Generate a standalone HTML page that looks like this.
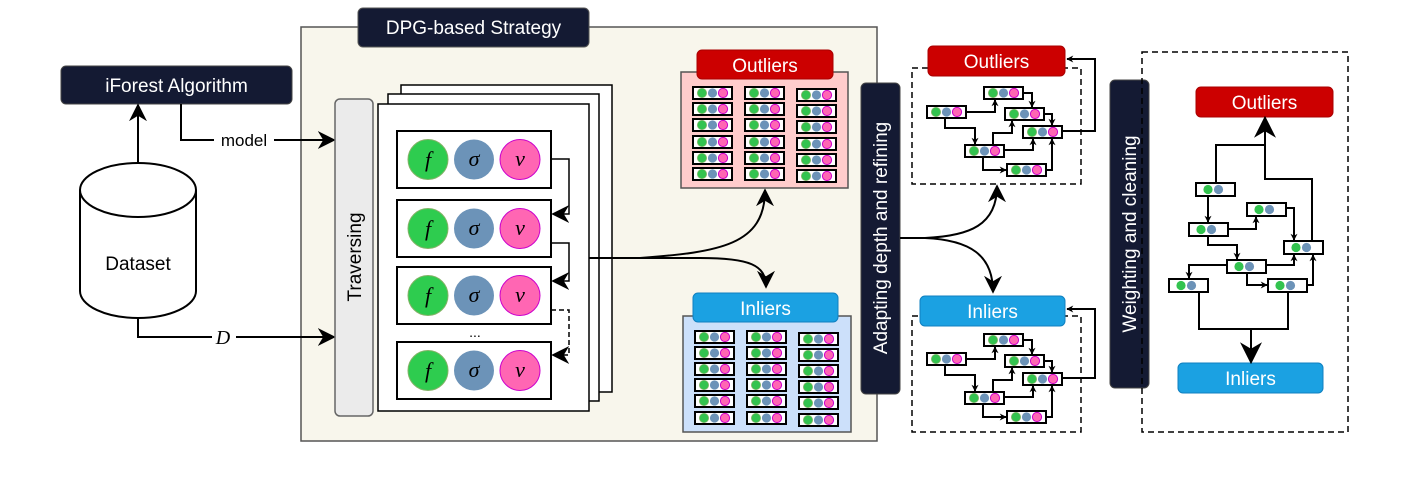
<!DOCTYPE html>
<html><head><meta charset="utf-8"><style>
html,body{margin:0;padding:0;background:#fff;}
svg{display:block;font-family:"Liberation Sans",sans-serif;}
</style></head><body>
<svg width="1413" height="482" viewBox="0 0 1413 482" xmlns="http://www.w3.org/2000/svg">
<defs>
<marker id="a" viewBox="0 0 10 10" refX="9" refY="5" markerWidth="7" markerHeight="7" orient="auto-start-reverse" markerUnits="userSpaceOnUse"><path d="M0,0 L10,5 L0,10 L3,5z" fill="#000"/></marker>
<marker id="am" viewBox="0 0 10 10" refX="9" refY="5" markerWidth="18" markerHeight="18" orient="auto" markerUnits="userSpaceOnUse"><path d="M0,0 L10,5 L0,10 L3,5z" fill="#000"/></marker>
<marker id="ab" viewBox="0 0 10 10" refX="9" refY="5" markerWidth="22" markerHeight="22" orient="auto" markerUnits="userSpaceOnUse"><path d="M0,0 L10,5 L0,10 L3,5z" fill="#000"/></marker>
<g id="m3"><rect x="0" y="0" width="39" height="12" fill="#fff" stroke="#000" stroke-width="2"/><circle cx="9" cy="6" r="4.6" fill="#33c34f" stroke="#82b366" stroke-width="0.8"/><circle cx="19.5" cy="6" r="4.6" fill="#6c93b8"/><circle cx="30" cy="6" r="4.6" fill="#ff66b3" stroke="#c0c" stroke-width="1"/></g>
<g id="m2"><rect x="0" y="0" width="39" height="13" fill="#fff" stroke="#000" stroke-width="2"/><circle cx="12" cy="6.5" r="4.6" fill="#33c34f"/><circle cx="22.5" cy="6.5" r="4.6" fill="#6c93b8"/></g>
<g id="card"><rect x="0" y="0" width="154" height="57" fill="#fff" stroke="#000" stroke-width="2"/>
<circle cx="31" cy="28.5" r="20" fill="#2ecc4f" stroke="#82b366"/><circle cx="77" cy="28.5" r="20" fill="#6c93b8"/><circle cx="123" cy="28.5" r="20" fill="#ff66b3" stroke="#c0c"/>
<text x="31" y="36" font-family="Liberation Serif,serif" font-style="italic" font-size="22" text-anchor="middle">f</text>
<text x="77" y="35" font-family="Liberation Serif,serif" font-style="italic" font-size="22" text-anchor="middle">σ</text>
<text x="123" y="35" font-family="Liberation Serif,serif" font-style="italic" font-size="22" text-anchor="middle">v</text></g>
<g id="graph" fill="none" stroke="#000" stroke-width="2">
<path d="M966,112 H995 V100" marker-end="url(#a)"/>
<path d="M1022,93 H1032 V107" marker-end="url(#a)"/>
<path d="M1044,114 H1052 V125" marker-end="url(#a)"/>
<path d="M945,119 V128 H975 V144" marker-end="url(#a)"/>
<path d="M993,145 V133 H1012 V121" marker-end="url(#a)"/>
<path d="M1004,150 H1033 V139" marker-end="url(#a)"/>
<path d="M983,157 V170 H1006" marker-end="url(#a)"/>
<path d="M1046,170 H1052 V139" marker-end="url(#a)"/>
<use href="#m3" x="927" y="106" stroke="none"/><use href="#m3" x="984" y="87" stroke="none"/><use href="#m3" x="1005" y="108" stroke="none"/><use href="#m3" x="1023" y="126" stroke="none"/><use href="#m3" x="965" y="145" stroke="none"/><use href="#m3" x="1007" y="164" stroke="none"/>
</g>
</defs>

<!-- strategy -->
<rect x="301" y="27" width="576" height="414" fill="#f8f6ec" stroke="#555" stroke-width="1.5"/>
<rect x="358" y="8" width="231" height="39" rx="5" fill="#141a33" stroke="#555"/>
<text x="473.5" y="34" fill="#fff" font-size="19" text-anchor="middle">DPG-based Strategy</text>

<!-- left -->
<rect x="61" y="66" width="231" height="38" rx="5" fill="#141a33" stroke="#444"/>
<text x="176.5" y="92" fill="#fff" font-size="19" text-anchor="middle">iForest Algorithm</text>
<path d="M80,190 V291 A58,27 0 0 0 196,291 V190" fill="#fff" stroke="#000" stroke-width="2"/>
<ellipse cx="138" cy="190" rx="58" ry="27" fill="#fff" stroke="#000" stroke-width="2"/>
<text x="138" y="270" font-size="19" text-anchor="middle">Dataset</text>
<path d="M138,163 V105" fill="none" stroke="#000" stroke-width="2" marker-end="url(#am)"/>
<path d="M181,104 V140 H334" fill="none" stroke="#000" stroke-width="2" marker-end="url(#am)"/>
<rect x="214" y="130" width="60" height="20" fill="#fff"/>
<text x="244" y="146" font-size="17" text-anchor="middle">model</text>
<path d="M138,318 V337 H334" fill="none" stroke="#000" stroke-width="2" marker-end="url(#am)"/>
<rect x="212" y="327" width="24" height="20" fill="#fff"/>
<text x="223" y="344" font-family="Liberation Serif,serif" font-style="italic" font-size="20" text-anchor="middle">D</text>

<rect x="335" y="99" width="38" height="317" rx="5" fill="#ebebeb" stroke="#666" stroke-width="1.5"/>
<text transform="translate(361,257) rotate(-90)" font-size="19" text-anchor="middle">Traversing</text>
<rect x="401" y="85" width="211" height="307" fill="#fff" stroke="#000" stroke-width="1.5"/>
<rect x="388" y="94" width="211" height="307" fill="#fff" stroke="#000" stroke-width="1.5"/>
<rect x="378" y="104" width="211" height="307" fill="#fff" stroke="#000" stroke-width="1.5"/>
<use href="#card" x="397" y="131"/><use href="#card" x="397" y="200"/><use href="#card" x="397" y="267"/><use href="#card" x="397" y="342"/>
<text x="475" y="337" font-size="14" text-anchor="middle">...</text>
<g fill="none" stroke="#000" stroke-width="1.5">
<path d="M551,159 H569 V214 H553" marker-end="url(#am)"/>
<path d="M551,243 H569 V281 H553" marker-end="url(#am)"/>
<path d="M551,310 H569 V355 H553" stroke-dasharray="5,3" marker-end="url(#am)"/>
<path d="M589,258 H640 C720,252 765,245 765,190" stroke-width="2" marker-end="url(#am)"/>
<path d="M589,258 H700 C750,258 766,265 766,287" stroke-width="2" marker-end="url(#am)"/>
</g>

<!-- outliers pink -->
<rect x="681" y="72" width="167" height="116" fill="#ffcccc" stroke="#555" stroke-width="1.5"/>
<rect x="697" y="50" width="136" height="29" rx="5" fill="#cc0000" stroke="#a00"/>
<text x="765" y="72" fill="#fff" font-size="19" text-anchor="middle">Outliers</text>
<g>
<use href="#m3" x="693" y="87"/><use href="#m3" x="693" y="103"/><use href="#m3" x="693" y="119"/><use href="#m3" x="693" y="136"/><use href="#m3" x="693" y="152"/><use href="#m3" x="693" y="168"/>
<use href="#m3" x="745" y="87"/><use href="#m3" x="745" y="103"/><use href="#m3" x="745" y="119"/><use href="#m3" x="745" y="136"/><use href="#m3" x="745" y="152"/><use href="#m3" x="745" y="168"/>
<use href="#m3" x="797" y="89"/><use href="#m3" x="797" y="105"/><use href="#m3" x="797" y="121"/><use href="#m3" x="797" y="138"/><use href="#m3" x="797" y="154"/><use href="#m3" x="797" y="170"/>
</g>
<!-- inliers blue -->
<rect x="683" y="316" width="168" height="116" fill="#cce0fa" stroke="#555" stroke-width="1.5"/>
<rect x="693" y="293" width="145" height="29" rx="5" fill="#1ba1e2" stroke="#1080c0"/>
<text x="765.5" y="315" fill="#fff" font-size="19" text-anchor="middle">Inliers</text>
<g>
<use href="#m3" x="695" y="331"/><use href="#m3" x="695" y="347"/><use href="#m3" x="695" y="363"/><use href="#m3" x="695" y="379"/><use href="#m3" x="695" y="395"/><use href="#m3" x="695" y="412"/>
<use href="#m3" x="747" y="331"/><use href="#m3" x="747" y="347"/><use href="#m3" x="747" y="363"/><use href="#m3" x="747" y="379"/><use href="#m3" x="747" y="395"/><use href="#m3" x="747" y="412"/>
<use href="#m3" x="799" y="333"/><use href="#m3" x="799" y="349"/><use href="#m3" x="799" y="365"/><use href="#m3" x="799" y="381"/><use href="#m3" x="799" y="397"/><use href="#m3" x="799" y="414"/>
</g>

<!-- adapting bar -->
<rect x="861" y="83" width="39" height="311" rx="5" fill="#141a33" stroke="#444"/>
<text transform="translate(887,238) rotate(-90)" fill="#fff" font-size="19" text-anchor="middle">Adapting depth and refining</text>
<g fill="none" stroke="#000" stroke-width="2">
<path d="M900,238 H925 C970,236 997,225 997,186" marker-end="url(#am)"/>
<path d="M900,238 H925 C970,240 993,255 993,292" marker-end="url(#am)"/>
</g>

<!-- mid outliers -->
<rect x="912" y="68" width="169" height="116" fill="none" stroke="#000" stroke-width="1.5" stroke-dasharray="6,4"/>
<use href="#graph"/>
<path d="M1062,131 H1095 V59 H1067" fill="none" stroke="#000" stroke-width="2" marker-end="url(#a)"/>
<rect x="928" y="46" width="137" height="30" rx="5" fill="#cc0000" stroke="#a00"/>
<text x="996.5" y="68" fill="#fff" font-size="19" text-anchor="middle">Outliers</text>
<!-- mid inliers -->
<rect x="912" y="316" width="169" height="116" fill="none" stroke="#000" stroke-width="1.5" stroke-dasharray="6,4"/>
<use href="#graph" y="247"/>
<path d="M1062,378 H1095 V309 H1067" fill="none" stroke="#000" stroke-width="2" marker-end="url(#a)"/>
<rect x="920" y="296" width="145" height="30" rx="5" fill="#1ba1e2" stroke="#1080c0"/>
<text x="992.5" y="318" fill="#fff" font-size="19" text-anchor="middle">Inliers</text>

<!-- weighting bar -->
<rect x="1110" y="80" width="39" height="308" rx="5" fill="#141a33" stroke="#444"/>
<text transform="translate(1136,234) rotate(-90)" fill="#fff" font-size="19" text-anchor="middle">Weighting and cleaning</text>

<!-- final -->
<rect x="1142" y="52" width="206" height="380" fill="none" stroke="#000" stroke-width="1.5" stroke-dasharray="6,4"/>
<rect x="1196" y="87" width="137" height="30" rx="5" fill="#cc0000" stroke="#a00"/>
<text x="1264.5" y="109" fill="#fff" font-size="19" text-anchor="middle">Outliers</text>
<rect x="1178" y="363" width="145" height="30" rx="5" fill="#1ba1e2" stroke="#1080c0"/>
<text x="1250.5" y="385" fill="#fff" font-size="19" text-anchor="middle">Inliers</text>
<g fill="none" stroke="#000" stroke-width="2">
<path d="M1216,183 V145 H1265"/>
<path d="M1312,241 V179 H1265 V118" marker-end="url(#ab)"/>
<path d="M1208,196 V222" marker-end="url(#a)"/>
<path d="M1227,229 H1256 V217" marker-end="url(#a)"/>
<path d="M1285,208 H1294 V240" marker-end="url(#a)"/>
<path d="M1208,236 V245 H1237 V259" marker-end="url(#a)"/>
<path d="M1227,265 H1189 V278" marker-end="url(#a)"/>
<path d="M1266,265 H1294 V255" marker-end="url(#a)"/>
<path d="M1247,273 V285 H1267" marker-end="url(#a)"/>
<path d="M1307,285 H1313 V255" marker-end="url(#a)"/>
<path d="M1199,292 V329 H1288 V292"/>
<path d="M1251,329 V362" marker-end="url(#ab)"/>
</g>
<use href="#m2" x="1196" y="183"/><use href="#m2" x="1247" y="203"/><use href="#m2" x="1189" y="223"/><use href="#m2" x="1284" y="241"/><use href="#m2" x="1227" y="260"/><use href="#m2" x="1169" y="279"/><use href="#m2" x="1268" y="279"/>
</svg>
</body></html>
